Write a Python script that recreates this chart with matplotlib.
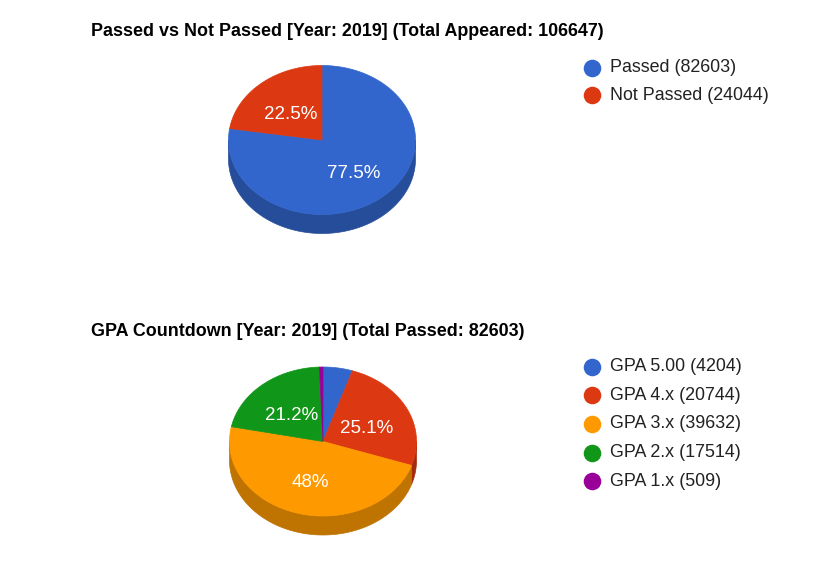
import numpy as np
import matplotlib.pyplot as plt
from matplotlib.patches import Polygon

plt.rcParams['font.family'] = ['Liberation Sans', 'DejaVu Sans']

# data
passed_labels = ['Passed', 'Not Passed']
passed_counts = [82603, 24044]
passed_colors = ['#3366cc', '#dc3912']

gpa_labels = ['GPA 5.00', 'GPA 4.x', 'GPA 3.x', 'GPA 2.x', 'GPA 1.x']
gpa_counts = [4204, 20744, 39632, 17514, 509]
gpa_colors = ['#3366cc', '#dc3912', '#ff9900', '#109618', '#990099']

year = 2019

fig = plt.figure(figsize=(8.16, 5.75), dpi=100)
ax = fig.add_axes([0, 0, 1, 1])
ax.set_xlim(0, 816)
ax.set_ylim(575, 0)
ax.axis('off')

RX, RY, DEPTH = 93.5, 74.5, 19


def darker(c, f=0.75):
    c = c.lstrip('#')
    r, g, b = [int(c[i:i + 2], 16) / 255 for i in (0, 2, 4)]
    return (r * f, g * f, b * f)


def arc(cx, cy, a, b, dy=0):
    t = np.radians(np.linspace(a, b, max(int(abs(b - a)) + 2, 3)))
    return np.column_stack([cx + RX * np.sin(t), cy - RY * np.cos(t) + dy])


def fmt_pct(p):
    s = f'{p:.1f}'
    return s[:-2] if s.endswith('.0') else s


def pie3d(cx, cy, counts, colors):
    total = sum(counts)
    angles = np.cumsum([0] + [c / total * 360 for c in counts])
    # rim (front half only)
    for i, col in enumerate(colors):
        a, b = max(angles[i], 90), min(angles[i + 1], 270)
        if b > a:
            top = arc(cx, cy, a, b)
            bot = arc(cx, cy, a, b, DEPTH)[::-1]
            ax.add_patch(Polygon(np.vstack([top, bot]), closed=True,
                                 facecolor=darker(col), edgecolor=darker(col),
                                 lw=0.5))
    # top faces
    for i, col in enumerate(colors):
        pts = np.vstack([[cx, cy], arc(cx, cy, angles[i], angles[i + 1])])
        ax.add_patch(Polygon(pts, closed=True, facecolor=col, edgecolor=col,
                             lw=0.5))
    # slice labels
    for i, c in enumerate(counts):
        p = c / total * 100
        if p < 10:
            continue
        m = np.radians((angles[i] + angles[i + 1]) / 2)
        ax.text(cx + 0.52 * RX * np.sin(m), cy + 4 - 0.52 * RY * np.cos(m),
                fmt_pct(p) + '%', color='white', fontsize=13.5,
                ha='center', va='center')


def legend(x, y0, step, labels, counts, colors):
    for i, (lab, c, col) in enumerate(zip(labels, counts, colors)):
        y = y0 + i * step
        ax.scatter([x], [y], s=160, color=col, linewidths=0, zorder=3)
        ax.text(x + 18, y, f'{lab} ({c})', fontsize=12.9, color='#222222',
                va='center', ha='left')


ax.text(91, 31, f'Passed vs Not Passed [Year: {year}] '
        f'(Total Appeared: {sum(passed_counts)})',
        fontsize=12.9, fontweight='bold', color='black', va='center')
pie3d(322, 140, passed_counts, passed_colors)
legend(592, 67.5, 27.5, passed_labels, passed_counts, passed_colors)

ax.text(91, 331, f'GPA Countdown [Year: {year}] '
        f'(Total Passed: {passed_counts[0]})',
        fontsize=12.9, fontweight='bold', color='black', va='center')
pie3d(323, 441.5, gpa_counts, gpa_colors)
legend(592, 366.5, 28.7, gpa_labels, gpa_counts, gpa_colors)

fig.savefig('out.png', dpi=100)
